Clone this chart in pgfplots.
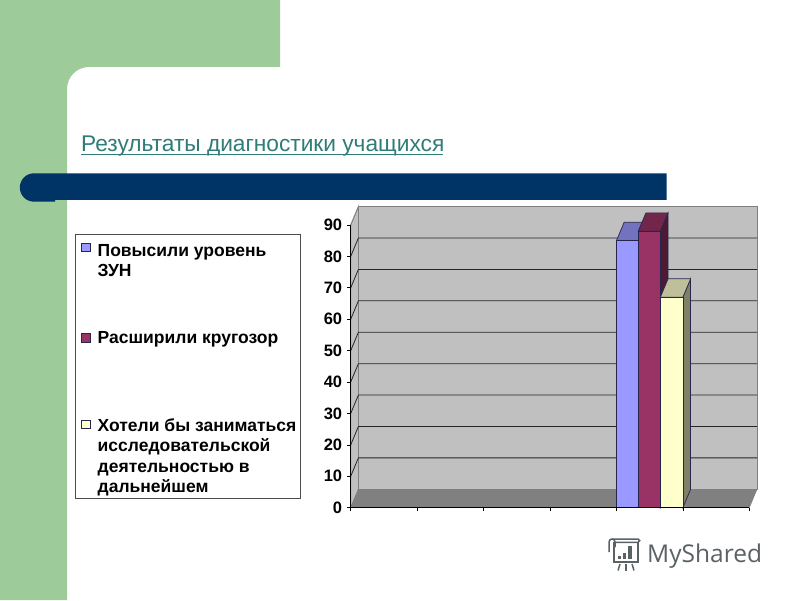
\documentclass[border=0pt]{standalone}
\usepackage{fontspec}
\setmainfont{Liberation Sans}
\usepackage{pgfplots}
\pgfplotsset{compat=1.18}
\newfontfamily\markfont{Open Sans}

\definecolor{slidegreen}{HTML}{9DCB9A}
\definecolor{slidenavy}{HTML}{003366}
\definecolor{titleteal}{HTML}{2F7C78}
\definecolor{wallgray}{HTML}{C0C0C0}
\definecolor{floorgray}{HTML}{808080}
\definecolor{barblue}{HTML}{9999FF}
\definecolor{barblueT}{HTML}{7272BE}
\definecolor{barplum}{HTML}{993366}
\definecolor{barplumT}{HTML}{72264C}
\definecolor{barplumS}{HTML}{4D1A33}
\definecolor{baryellow}{HTML}{FFFFCC}
\definecolor{baryellowT}{HTML}{BFBF99}
\definecolor{baryellowS}{HTML}{808066}
\definecolor{baredge}{HTML}{26264D}
\definecolor{markgray}{HTML}{5A6266}

% legend swatch, #1 lifts it to the first line of its entry
\pgfplotsset{
  barleg/.style={area legend,legend image code/.code={\draw[##1,line width=0.8pt] (0pt,#1-0.5pt) rectangle (8.5pt,#1+8pt);}},
}

\begin{document}
\begin{tikzpicture}[x=1pt,y=1pt]
\path[use as bounding box] (0,0) rectangle (800,600);
\fill[white] (0,0) rectangle (800,600);

% slide background
\fill[slidegreen] (0,0) -- (67,0) -- (67,511) arc[start angle=180,end angle=90,radius=22] -- (280,533) -- (280,600) -- (0,600) -- cycle;
\fill[slidenavy] (34,398.3) arc[start angle=270,end angle=90,radius=14.2] -- (666.7,426.7) -- (666.7,400) -- (55,400) -- (55,398.3) -- cycle;

% heading
\node[anchor=base west,inner sep=0pt,text=titleteal,font=\fontsize{22.7}{25}\selectfont] at (81,448) {Результаты диагностики учащихся};
\draw[titleteal,line width=1.2pt] (81,445.3) -- (443,445.3);

\begin{axis}[
    at={(350.7pt,92.3pt)}, anchor=south west,
    scale only axis, width=398.6pt, height=282.7pt,
    xmin=0, xmax=6, ymin=0, ymax=90,
    clip=false, axis on top,
    axis lines=left, axis line style={-,black,line width=0.7pt},
    xtick={0,1,2,3,4,5,6}, xticklabels={},
    ytick={0,10,...,90},
    tick align=outside, major tick length=3.5pt,
    tick style={black,line width=0.7pt},
    tick label style={font=\bfseries\fontsize{16.5}{18}\selectfont},
    /pgf/number format/assume math mode=true,
    ytick pos=left, xtick pos=bottom,
    yticklabel style={xshift=-1.5pt},
    legend cell align=left,
    legend style={
      at={(-0.6929,0.968)}, anchor=north west,
      draw=black!70, line width=0.8pt, fill=white,
      inner ysep=0.5pt, inner xsep=6.5pt, row sep=0pt,
      nodes={text depth=,inner sep=2pt},
      /tikz/every odd column/.append style={column sep=5pt},
      font=\bfseries\fontsize{17.5}{20.5}\selectfont,
    },
]

% back wall, left wall, floor
\addplot[forget plot,fill=wallgray,draw=floorgray,line width=0.8pt] coordinates {(0.116,5.86) (6.116,5.86) (6.116,95.86) (0.116,95.86)} --cycle;
\addplot[forget plot,fill=wallgray,draw=floorgray,line width=0.8pt] coordinates {(0,0) (0.116,5.86) (0.116,95.86) (0,90)} --cycle;
\addplot[forget plot,fill=floorgray,draw=floorgray,line width=0.5pt] coordinates {(0,0) (6,0) (6.116,5.86) (0.116,5.86)} --cycle;

% grid lines, each runs up the left wall and along the back
\addplot[forget plot,black!85,line width=0.8pt] coordinates {(0,10) (0.116,15.86) (6.116,15.86)};
\addplot[forget plot,black!85,line width=0.8pt] coordinates {(0,20) (0.116,25.86) (6.116,25.86)};
\addplot[forget plot,black!85,line width=0.8pt] coordinates {(0,30) (0.116,35.86) (6.116,35.86)};
\addplot[forget plot,black!85,line width=0.8pt] coordinates {(0,40) (0.116,45.86) (6.116,45.86)};
\addplot[forget plot,black!85,line width=0.8pt] coordinates {(0,50) (0.116,55.86) (6.116,55.86)};
\addplot[forget plot,black!85,line width=0.8pt] coordinates {(0,60) (0.116,65.86) (6.116,65.86)};
\addplot[forget plot,black!85,line width=0.8pt] coordinates {(0,70) (0.116,75.86) (6.116,75.86)};
\addplot[forget plot,black!85,line width=0.8pt] coordinates {(0,80) (0.116,85.86) (6.116,85.86)};
\addplot[forget plot,floorgray,line width=0.7pt] coordinates {(0,90) (0.116,95.86)};

% blue bar: top and side, then front
\addplot[forget plot,fill=barblueT,draw=baredge,line width=0.7pt] coordinates {(4,85) (4.328,85) (4.444,90.86) (4.116,90.86)} --cycle;
\addplot[ybar,bar width=0.328,bar shift=0pt,fill=barblue,draw=baredge,line width=0.7pt,barleg=31pt] coordinates {(4.164,85)};
\addlegendentry{\parbox[t]{194pt}{\rule{0pt}{19.5pt}Повысили уровень\\ЗУН\rule[-50.5pt]{0pt}{0pt}}}

% plum bar
\addplot[forget plot,fill=barplumS,draw=baredge,line width=0.7pt] coordinates {(4.661,0) (4.777,5.86) (4.777,93.86) (4.661,88)} --cycle;
\addplot[forget plot,fill=barplumT,draw=baredge,line width=0.7pt] coordinates {(4.328,88) (4.661,88) (4.777,93.86) (4.444,93.86)} --cycle;
\addplot[ybar,bar width=0.333,bar shift=0pt,fill=barplum,draw=baredge,line width=0.7pt,barleg=31.5pt] coordinates {(4.4945,88)};
\addlegendentry{\parbox[t]{194pt}{Расширили кругозор\rule[-71pt]{0pt}{0pt}}}

% yellow bar
\addplot[forget plot,fill=baryellowS,draw=baredge,line width=0.7pt] coordinates {(5,0) (5.116,5.86) (5.116,72.86) (5,67)} --cycle;
\addplot[forget plot,fill=baryellowT,draw=baredge,line width=0.7pt] coordinates {(4.661,67) (5,67) (5.116,72.86) (4.777,72.86)} --cycle;
\addplot[ybar,bar width=0.339,bar shift=0pt,fill=baryellow,draw=baredge,line width=0.7pt,barleg=29.5pt] coordinates {(4.8305,67)};
\addlegendentry{\parbox[t]{194pt}{\mbox{Хотели бы заниматься}\\исследовательской\\деятельностью в\\дальнейшем}}

\end{axis}

% watermark
\begin{scope}[markgray,line width=1.5pt]
\draw (614,58) -- (614,38) -- (638,38) -- (638,58);
\draw (609,48) -- (609,58) arc[start angle=180,end angle=0,radius=3] -- (615,53);
\draw (612,61) -- (638,61) arc[start angle=90,end angle=-90,radius=1.7] -- (615,57.6);
\draw (620,36) -- (618,29.5);
\draw (626,36) -- (626,29.5);
\draw (632,36) -- (634,29.5);
\fill (618,41) rectangle (621,44);
\fill (623,41) rectangle (626,47);
\fill (628,41) rectangle (632,54);
\end{scope}
\node[anchor=base west,inner sep=0pt,text=markgray,font=\markfont\fontsize{24.5}{26}\selectfont] at (647,37.3) {MyShared};
\end{tikzpicture}
\end{document}
